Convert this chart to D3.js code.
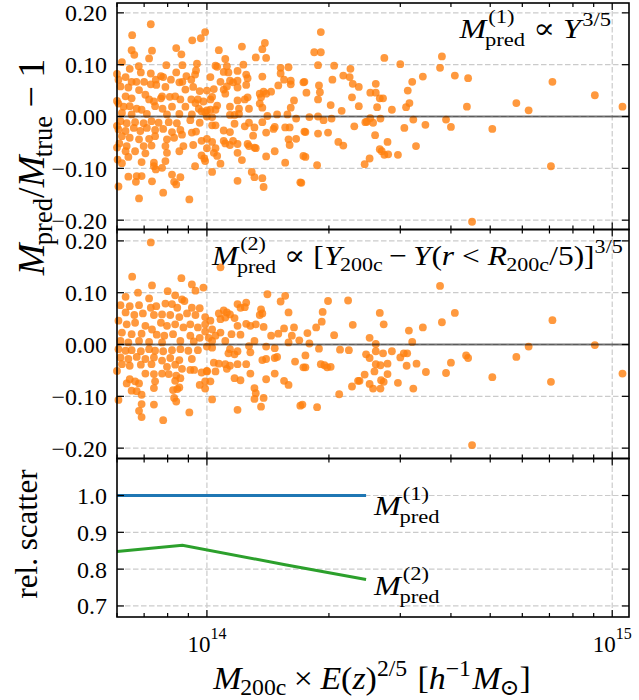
<!DOCTYPE html>
<html>
<head>
<meta charset="utf-8">
<script src="https://cdn.jsdelivr.net/npm/d3@7"></script>
<style>
  body { margin: 0; background: #fff; }
  svg { font-family: "Liberation Serif", "DejaVu Serif", serif; }
</style>
</head>
<body>
<svg id="chart" width="639" height="700"></svg>
<script>
// masses in units of 1e14 h^-1 Msun, residual M_pred/M_true - 1
var predOnePoints = [
  [1.84,0.124],[1.91,0.124],[1.91,0.163],[1.88,0.099],[2.06,0.098],[2.17,0.079],[2.26,0.092],[2.25,0.076],
  [2.04,0.071],[1.89,0.06],[1.90,0.047],[1.74,0.067],[1.76,0.046],[2.29,0.063],[2.37,0.057],[2.28,0.037],
  [2.37,0.02],[2.15,0.011],[2.02,0.022],[1.88,0.033],[1.79,-0.001],[1.88,0.0],[1.94,-0.007],[2.03,-0.004],
  [2.31,-0.019],[2.48,-0.01],[1.88,-0.033],[1.99,-0.031],[2.11,-0.049],[2.17,-0.056],[1.75,-0.03],[1.75,-0.078],
  [1.87,-0.094],[1.70,-0.127],
  [2.74,0.113],[3.0,0.101],[3.80,0.116],[3.76,0.094],[3.41,0.077],[3.21,0.067],[3.13,0.05],[3.16,0.026],
  [3.10,0.018],[4.09,0.079],[4.41,0.074],[4.38,0.019],[2.86,0.013],[2.61,0.063],[2.53,0.046],[2.61,0.046],
  [2.67,0.035],[2.72,0.035],[2.63,0.018],[2.46,-0.011],[2.53,-0.003],[2.57,-0.012],[2.68,-0.004],[3.23,-0.006],
  [3.07,-0.022],[3.46,-0.016],[3.89,-0.006],[4.0,-0.02],[5.06,-0.024],[2.6,-0.036],[2.79,-0.049],[2.67,-0.063],
  [2.70,-0.067],[2.74,-0.074],[2.80,-0.073],[2.96,-0.074],[3.28,-0.057],[2.45,-0.092],[2.52,-0.081],[7.06,-0.096],
  [4.51,-0.203],[5.80,0.026],[6.22,0.012],[7.12,0.067],[9.06,0.041],[10.6,0.019],
  [0.99,0.163],[1.22,0.135],[1.39,0.142],[1.37,0.130],[1.07,0.128],[1.11,0.111],[1.32,0.114],[1.40,0.113],
  [1.05,0.098],[1.06,0.096],[1.12,0.097],[1.23,0.100],[1.10,0.086],[1.19,0.088],[1.13,0.085],[1.02,0.076],
  [1.25,0.081],[1.26,0.074],[1.37,0.077],[1.52,0.094],[1.59,0.095],[1.52,0.083],[1.55,0.071],[1.61,0.069],
  [1.61,0.062],[1.50,0.06],[1.73,0.066],[1.08,0.067],[1.14,0.069],[1.16,0.066],[1.19,0.069],[1.25,0.061],
  [1.19,0.056],[1.12,0.058],[1.10,0.052],[1.11,0.044],[1.04,0.053],[1.00,0.05],[1.03,0.038],[1.02,0.033],
  [1.06,0.021],[1.05,0.013],[1.02,0.013],[1.0,0.012],[0.99,0.008],[1.19,0.031],[1.26,0.037],[1.24,0.033],
  [1.14,0.019],[1.20,0.015],[1.27,0.015],[1.35,0.044],[1.36,0.037],[1.35,0.025],[1.37,0.017],[1.38,0.048],
  [1.44,0.048],[1.40,0.044],[1.64,0.031],[1.61,0.017],[1.58,0.004],[1.49,0.004],[1.41,0.001],[1.14,0.003],
  [1.17,0.003],[1.20,0.005],[1.0,0.0],[1.03,-0.001],[1.66,-0.004],[1.03,-0.017],[1.05,-0.017],[1.17,-0.014],
  [1.24,-0.019],[1.31,-0.021],[1.27,-0.012],[1.37,-0.011],[1.40,-0.031],[1.47,-0.02],[1.46,-0.024],[1.56,-0.021],
  [1.60,-0.021],[1.74,-0.029],[1.59,-0.044],[1.60,-0.055],[1.66,-0.043],[1.10,-0.027],[1.14,-0.03],[1.10,-0.047],
  [1.11,-0.052],[1.14,-0.055],[1.16,-0.047],[1.19,-0.053],[1.19,-0.07],[1.26,-0.053],[1.27,-0.057],[1.30,-0.037],
  [1.31,-0.06],[1.32,-0.061],[1.03,-0.049],[1.05,-0.061],[1.04,-0.07],[1.06,-0.076],[1.08,-0.091],[1.0,-0.043],
  [1.0,-0.061],[0.99,-0.086],[1.22,-0.084],[1.40,-0.077],[1.47,-0.067],[1.56,-0.089],[1.73,-0.076],[1.03,-0.107],
  [1.29,-0.107],[1.31,-0.117],[1.37,-0.119],[1.38,-0.136],[1.19,-0.124],[1.71,-0.128],
  [0.727,0.178],[0.654,0.157],[0.966,0.151],[0.92,0.147],[0.84,0.132],[0.865,0.12],[0.652,0.128],[0.732,0.127],
  [0.662,0.119],[0.72,0.112],[0.617,0.105],[0.794,0.099],[0.679,0.097],[0.87,0.099],[0.945,0.102],[0.94,0.089],
  [0.935,0.081],[0.645,0.092],[0.687,0.085],[0.727,0.083],[0.63,0.076],[0.84,0.085],[0.89,0.078],[0.77,0.078],
  [0.748,0.071],[0.815,0.071],[0.78,0.076],[0.652,0.067],[0.67,0.067],[0.70,0.067],[0.727,0.062],[0.605,0.071],
  [0.612,0.058],[0.64,0.056],[0.68,0.051],[0.75,0.061],[0.79,0.057],[0.855,0.066],[0.87,0.067],[0.915,0.071],
  [0.96,0.049],[0.925,0.057],[0.885,0.052],[0.63,0.039],[0.652,0.035],[0.705,0.042],[0.72,0.033],[0.775,0.039],
  [0.81,0.038],[0.835,0.039],[0.77,0.035],[0.74,0.029],[0.86,0.033],[0.915,0.033],[0.95,0.033],[0.98,0.029],
  [0.605,0.025],[0.623,0.019],[0.645,0.02],[0.671,0.015],[0.69,0.013],[0.745,0.02],[0.777,0.015],[0.82,0.019],
  [0.885,0.019],[0.955,0.015],[0.937,0.026],[0.97,0.01],[0.617,0.007],[0.652,0.004],[0.711,0.005],[0.797,0.004],
  [0.855,0.005],[0.918,0.004],[0.612,-0.009],[0.634,-0.013],[0.665,-0.011],[0.698,-0.013],[0.73,-0.009],[0.76,-0.012],
  [0.805,-0.011],[0.843,-0.013],[0.91,-0.007],[0.96,-0.012],[0.605,-0.025],[0.63,-0.028],[0.66,-0.022],[0.685,-0.028],
  [0.711,-0.022],[0.745,-0.026],[0.78,-0.024],[0.82,-0.03],[0.86,-0.026],[0.918,-0.031],[0.94,-0.029],[0.617,-0.038],
  [0.645,-0.041],[0.68,-0.044],[0.72,-0.043],[0.745,-0.038],[0.797,-0.044],[0.83,-0.041],[0.868,-0.035],[0.97,-0.047],
  [0.608,-0.052],[0.634,-0.057],[0.698,-0.057],[0.73,-0.056],[0.79,-0.057],[0.875,-0.057],[0.925,-0.055],[0.63,-0.067],
  [0.665,-0.067],[0.705,-0.071],[0.797,-0.07],[0.855,-0.067],[0.97,-0.075],[0.985,-0.081],[0.64,-0.078],[0.602,-0.083],
  [0.69,-0.088],[0.74,-0.089],[0.79,-0.086],[0.935,-0.096],[0.617,-0.09],[0.74,-0.096],[0.748,-0.102],[0.775,-0.099],
  [0.671,-0.115],[0.64,-0.116],[0.69,-0.115],[0.82,-0.112],[0.86,-0.117],[0.83,-0.126],[0.84,-0.131],[0.732,-0.125],
  [0.668,-0.126],[0.605,-0.135],[0.78,-0.147],[0.68,-0.158],[0.905,-0.16],
  [0.60,0.082],[0.60,0.03],[0.60,-0.018],[0.60,-0.06]
];

var predTwoPoints = [
  [0.727,0.197],[0.654,0.131],[0.865,0.128],[0.732,0.114],[0.918,0.116],[0.98,0.110],[0.937,0.104],[0.676,0.100],
  [0.80,0.103],[0.835,0.095],[0.63,0.092],[0.72,0.089],[0.868,0.087],[0.88,0.084],[0.612,0.076],[0.645,0.074],
  [0.68,0.076],[0.727,0.071],[0.75,0.074],[0.79,0.079],[0.82,0.078],[0.845,0.071],[0.918,0.071],[0.96,0.07],
  [0.63,0.062],[0.662,0.057],[0.695,0.06],[0.74,0.057],[0.775,0.058],[0.812,0.057],[0.855,0.053],[0.893,0.06],
  [0.937,0.057],[0.99,0.053],[0.605,0.046],[0.634,0.039],[0.665,0.042],[0.705,0.036],[0.732,0.029],[0.77,0.042],
  [0.797,0.036],[0.835,0.039],[0.875,0.033],[0.91,0.039],[0.95,0.033],[0.99,0.025],[0.617,0.023],[0.652,0.02],
  [0.69,0.021],[0.752,0.019],[0.785,0.017],[0.825,0.02],[0.91,0.017],[0.96,0.013],[0.612,0.007],[0.64,0.004],
  [0.68,0.007],[0.72,0.005],[0.775,0.004],[0.86,0.007],[0.928,0.006],
  [0.605,-0.009],[0.63,-0.012],[0.652,-0.011],[0.687,-0.013],[0.72,-0.009],[0.745,-0.012],[0.78,-0.013],[0.82,-0.011],
  [0.86,-0.009],[0.9,-0.012],[0.95,-0.011],[0.612,-0.025],[0.64,-0.028],[0.671,-0.024],[0.705,-0.028],[0.74,-0.025],
  [0.775,-0.031],[0.812,-0.026],[0.855,-0.03],[0.918,-0.028],[0.868,-0.047],[0.617,-0.038],[0.645,-0.041],[0.687,-0.039],
  [0.73,-0.038],[0.797,-0.043],[0.835,-0.039],[0.91,-0.049],[0.93,-0.049],[0.60,-0.051],[0.705,-0.056],[0.74,-0.057],
  [0.775,-0.056],[0.805,-0.057],[0.84,-0.06],[0.97,-0.054],[1.0,-0.052],[0.645,-0.067],[0.665,-0.071],[0.745,-0.071],
  [0.835,-0.07],[0.86,-0.065],[0.634,-0.075],[0.68,-0.075],[0.74,-0.084],[0.855,-0.083],[0.96,-0.078],[0.99,-0.071],
  [0.652,-0.089],[0.671,-0.09],[0.825,-0.088],[0.845,-0.086],[0.69,-0.097],[0.605,-0.107],[0.83,-0.103],[0.84,-0.11],
  [0.74,-0.116],[0.69,-0.115],[0.68,-0.128],[0.69,-0.14],[0.78,-0.146],[0.905,-0.131],
  [1.08,0.149],[1.41,0.097],[1.56,0.094],[1.52,0.083],[1.59,0.062],[1.64,0.033],[1.19,0.078],[1.21,0.071],
  [1.25,0.081],[1.24,0.072],[1.10,0.066],[1.12,0.062],[1.07,0.06],[1.14,0.058],[1.36,0.068],[1.37,0.06],
  [1.35,0.057],[1.02,0.046],[1.08,0.049],[1.11,0.052],[1.17,0.051],[1.19,0.036],[1.25,0.04],[1.28,0.036],
  [1.32,0.039],[1.38,0.034],[1.55,0.031],[1.44,0.017],[1.50,0.021],[1.62,0.017],[1.69,0.008],[0.99,0.039],
  [1.03,0.029],[1.05,0.017],[1.08,0.023],[1.15,0.02],[1.21,0.019],[1.01,0.013],[1.03,0.007],[1.11,0.007],
  [1.31,0.007],[1.59,0.004],[1.0,-0.004],[1.03,-0.006],[1.14,-0.009],[1.27,-0.003],[1.40,-0.004],[1.47,-0.007],
  [1.17,-0.019],[1.19,-0.013],[1.13,-0.017],[1.28,-0.015],[1.37,-0.03],[1.40,-0.028],[1.49,-0.024],[1.47,-0.026],
  [1.65,-0.033],[1.04,-0.035],[1.07,-0.037],[1.11,-0.038],[1.14,-0.041],[1.12,-0.047],[1.19,-0.038],[1.25,-0.038],
  [1.0,-0.051],[1.05,-0.052],[1.02,-0.071],[1.17,-0.065],[1.21,-0.069],[1.28,-0.056],[1.40,-0.067],[1.47,-0.056],
  [1.55,-0.07],[1.59,-0.078],[1.73,-0.044],[1.31,-0.084],[1.32,-0.094],[1.31,-0.105],[1.38,-0.103],[1.03,-0.106],
  [1.36,-0.12],[1.19,-0.126],[1.72,-0.116],[0.99,-0.085],
  [1.99,0.084],[2.23,0.085],[2.29,0.038],[1.93,0.063],[1.92,0.044],[1.77,0.022],[1.86,0.033],[2.06,0.018],
  [1.79,0.002],[1.89,-0.008],[2.13,-0.01],[2.24,-0.011],[1.75,-0.021],[1.91,-0.038],[1.75,-0.044],[1.98,-0.044],
  [2.02,-0.043],[1.95,-0.04],[2.36,-0.07],[2.38,-0.07],[2.28,-0.081],[2.12,-0.096],[1.87,-0.121],[1.70,-0.118],
  [3.76,0.113],[2.67,0.061],[4.09,0.061],[2.73,0.039],[3.80,0.043],[3.41,0.033],[3.15,0.027],[3.21,0.005],
  [7.12,0.047],[2.52,0.013],[2.61,0.001],[6.22,-0.004],[9.06,-0.001],[2.47,-0.019],[2.52,-0.026],[2.61,-0.013],
  [2.72,-0.017],[2.86,-0.013],[3.0,-0.025],[3.06,-0.017],[3.12,-0.017],[3.11,-0.041],[3.29,-0.037],[3.47,-0.053],
  [3.89,-0.055],[4.0,-0.035],[4.36,-0.021],[4.41,-0.026],[5.80,-0.024],[5.06,-0.063],[7.06,-0.072],[10.6,-0.056],
  [2.61,-0.038],[2.59,-0.052],[2.68,-0.04],[2.79,-0.037],[2.79,-0.057],[2.45,-0.058],[2.52,-0.076],[2.57,-0.085],
  [2.68,-0.085],[2.69,-0.069],[2.73,-0.072],[2.96,-0.074],[3.23,-0.085],[4.51,-0.194]
];

// relative scatter per mass bin
var binMass = [0.60, 0.87, 1.56, 2.47];
var relScatterOne = [1.0, 1.0, 1.0, 1.0];
var relScatterTwo = [0.848, 0.865, 0.812, 0.772];

var residTicks = [-0.2, -0.1, 0.0, 0.1, 0.2];
var scatterTicks = [0.7, 0.8, 0.9, 1.0];
var majorMassTicks = [1e14, 1e15];
var minorMassTicks = [6e13, 7e13, 8e13, 9e13, 2e14, 3e14, 4e14, 5e14, 6e14, 7e14, 8e14, 9e14];

var svg = d3.select("#chart");
var left = 117, right = 629;

var x = d3.scaleLog().domain([6e13, 1.1e15]).range([left, right]);

var panels = [
  {top: 3, bottom: 229.5, domain: [-0.218, 0.219], ticks: residTicks, fmt: d3.format(".2f")},
  {top: 229.5, bottom: 458.5, domain: [-0.220, 0.222], ticks: residTicks, fmt: d3.format(".2f")},
  {top: 458.5, bottom: 617, domain: [0.670, 1.1005], ticks: scatterTicks, fmt: d3.format(".1f")}
];
panels.forEach(function (p) {
  p.y = d3.scaleLinear().domain(p.domain).range([p.bottom, p.top]);
});

var gridColor = "#cbcbcb";

// grid lines
panels.forEach(function (p) {
  var g = svg.append("g");
  g.selectAll("line.h").data(p.ticks).enter().append("line")
    .attr("x1", left).attr("x2", right)
    .attr("y1", function (d) { return p.y(d); }).attr("y2", function (d) { return p.y(d); })
    .attr("stroke", gridColor).attr("stroke-width", 1.2).attr("stroke-dasharray", "5.5,2.5");
  g.selectAll("line.v").data(majorMassTicks).enter().append("line")
    .attr("x1", function (d) { return x(d); }).attr("x2", function (d) { return x(d); })
    .attr("y1", p.top).attr("y2", p.bottom)
    .attr("stroke", gridColor).attr("stroke-width", 1.2).attr("stroke-dasharray", "5.5,2.5");
});

// scatter panels
[predOnePoints, predTwoPoints].forEach(function (pts, i) {
  var p = panels[i];
  var g = svg.append("g");
  g.selectAll("circle").data(pts).enter().append("circle")
    .attr("cx", function (d) { return x(d[0] * 1e14); })
    .attr("cy", function (d) { return p.y(d[1]); })
    .attr("r", 3.9)
    .attr("fill", "#ff7f0e")
    .attr("fill-opacity", 0.8);
  g.append("line")
    .attr("x1", left).attr("x2", right)
    .attr("y1", p.y(0)).attr("y2", p.y(0))
    .attr("stroke", "#000").attr("stroke-opacity", 0.55).attr("stroke-width", 2.2);
});

// relative scatter lines
var p3 = panels[2];
var line = d3.line()
  .x(function (d) { return x(d[0] * 1e14); })
  .y(function (d) { return p3.y(d[1]); });
svg.append("path").datum(d3.zip(binMass, relScatterOne))
  .attr("d", line).attr("fill", "none").attr("stroke", "#1f77b4").attr("stroke-width", 3);
svg.append("path").datum(d3.zip(binMass, relScatterTwo))
  .attr("d", line).attr("fill", "none").attr("stroke", "#2ca02c").attr("stroke-width", 3);

// frames and ticks
panels.forEach(function (p) {
  var g = svg.append("g").attr("stroke", "#000");
  function xt(vals, len) {
    vals.forEach(function (v) {
      var px = x(v);
      g.append("line").attr("x1", px).attr("x2", px).attr("y1", p.bottom).attr("y2", p.bottom - len).attr("stroke-width", 1.2);
      g.append("line").attr("x1", px).attr("x2", px).attr("y1", p.top).attr("y2", p.top + len).attr("stroke-width", 1.2);
    });
  }
  xt(majorMassTicks, 7);
  xt(minorMassTicks, 4);
  p.ticks.forEach(function (v) {
    var py = p.y(v);
    g.append("line").attr("x1", left).attr("x2", left + 7).attr("y1", py).attr("y2", py).attr("stroke-width", 1.2);
    g.append("line").attr("x1", right).attr("x2", right - 7).attr("y1", py).attr("y2", py).attr("stroke-width", 1.2);
  });
  g.append("rect").attr("x", left).attr("y", p.top).attr("width", right - left).attr("height", p.bottom - p.top)
    .attr("fill", "none").attr("stroke-width", 1.6);

  svg.append("g").selectAll("text").data(p.ticks).enter().append("text")
    .attr("x", left - 10).attr("y", function (d) { return p.y(d); })
    .attr("dy", "0.35em").attr("text-anchor", "end").attr("font-size", 24)
    .text(function (d) { return p.fmt(d).replace("-", "\u2212"); });
});

// x tick labels
majorMassTicks.forEach(function (v) {
  var g = svg.append("g");
  var t = g.append("text").attr("y", 652).attr("font-size", 23);
  t.append("tspan").text("10");
  t.append("tspan").attr("dy", -13).attr("font-size", 16).text(String(Math.round(Math.log10(v))));
  var w = t.node().getComputedTextLength();
  t.attr("x", x(v) - w / 2);
});

// small math typesetting helper
function mathText(parent, parts, size) {
  var g = parent.append("g");
  var cx = 0;
  parts.forEach(function (p) {
    cx += (p.pre || 0) * size;
    var b = g.append("text").attr("x", cx).attr("y", 0).attr("font-size", size)
      .attr("font-style", p.it ? "italic" : "normal").text(p.t);
    cx += b.node().getComputedTextLength();
    var w = 0, ss = size * 0.7;
    if (p.sup) {
      var dx = (p.supdx || 0) * size;
      var s = g.append("text").attr("x", cx + dx).attr("y", -(p.sub ? 0.52 : 0.42) * size)
        .attr("font-size", ss).text(p.sup);
      w = Math.max(w, dx + s.node().getComputedTextLength());
    }
    if (p.sub) {
      var dx2 = (p.subdx || 0) * size;
      var s2 = g.append("text").attr("x", cx + dx2).attr("y", (p.sup ? 0.3 : 0.2) * size)
        .attr("font-size", ss).attr("font-style", p.subit ? "italic" : "normal").text(p.sub);
      w = Math.max(w, dx2 + s2.node().getComputedTextLength());
    }
    cx += w + (p.post || 0) * size;
  });
  return {g: g, width: cx};
}

function place(m, x0, y0, anchor, k) {
  k = k || 1;
  var w = m.width * k;
  var sx = anchor === "middle" ? x0 - w / 2 : anchor === "end" ? x0 - w : x0;
  m.g.attr("transform", "translate(" + sx + "," + y0 + ") scale(" + k + ",1)");
}

// annotations
place(mathText(svg, [
  {t: "M", it: 1, sup: "(1)", sub: "pred", supdx: 0.06, subdx: -0.04},
  {t: "\u221D", pre: 0.25, post: 0.25},
  {t: "Y", it: 1, sup: "3/5", supdx: 0.04}
], 28), 611, 38, "end", 1.15);

place(mathText(svg, [
  {t: "M", it: 1, sup: "(2)", sub: "pred", supdx: 0.06, subdx: -0.04},
  {t: "\u221D", pre: 0.25, post: 0.25},
  {t: "[", post: 0.02},
  {t: "Y", it: 1, sub: "200c", subdx: -0.06},
  {t: "\u2212", pre: 0.2, post: 0.2},
  {t: "Y", it: 1},
  {t: "(", pre: 0.02},
  {t: "r", it: 1},
  {t: "<", pre: 0.25, post: 0.25},
  {t: "R", it: 1, sub: "200c", subdx: -0.02},
  {t: "/5)]", sup: "3/5"}
], 28), 212, 265, "start", 1.125);

place(mathText(svg, [
  {t: "M", it: 1, sup: "(1)", sub: "pred", supdx: 0.06, subdx: -0.04}
], 28), 374, 515, "start", 1.15);
place(mathText(svg, [
  {t: "M", it: 1, sup: "(2)", sub: "pred", supdx: 0.06, subdx: -0.04}
], 28), 374, 595, "start", 1.15);

// axis labels
var yl = svg.append("g").attr("transform", "translate(44,167) rotate(-90)");
place(mathText(yl, [
  {t: "M", it: 1, sub: "pred", subdx: -0.04},
  {t: "/"},
  {t: "M", it: 1, sub: "true", subdx: -0.04},
  {t: "\u2212", pre: 0.22, post: 0.22},
  {t: "1"}
], 38), 0, 0, "middle");

var yl2 = svg.append("g").attr("transform", "translate(37,534) rotate(-90)");
yl2.append("text").attr("text-anchor", "middle").attr("font-size", 31).text("rel.  scatter");

place(mathText(svg, [
  {t: "M", it: 1, sub: "200c", subdx: -0.04},
  {t: "\u00D7", pre: 0.22, post: 0.22},
  {t: "E", it: 1},
  {t: "("},
  {t: "z", it: 1},
  {t: ")", sup: "2/5"},
  {t: "[", pre: 0.3},
  {t: "h", it: 1, sup: "\u22121"},
  {t: "M", it: 1, pre: 0.05, sub: "\u2299", subdx: -0.04},
  {t: "]"}
], 32), 372, 689, "middle", 1.06);
</script>
</body>
</html>
